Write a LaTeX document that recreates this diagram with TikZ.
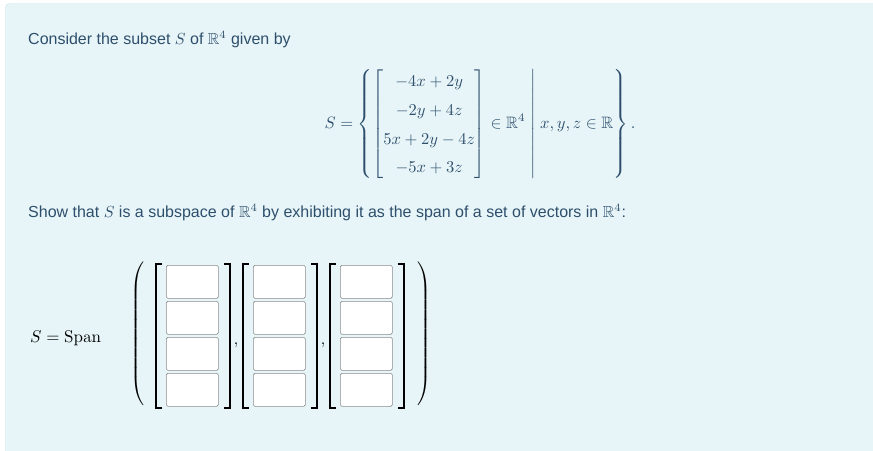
\documentclass[tikz,border=0pt]{standalone}
\usepackage{amsmath,amssymb}
\usepackage[no-math]{fontspec}
\setmainfont{Liberation Sans}
\definecolor{txt}{HTML}{2D4F6C}
\definecolor{bg}{HTML}{E8F5F8}
\definecolor{edge}{HTML}{C5E3EC}
\begin{document}
\begin{tikzpicture}[x=1pt,y=-1pt,
  para/.style={anchor=base west,inner sep=0,text=txt},
  ansbox/.style={draw=gray!90,fill=white,rounded corners=1.5pt,minimum width=52pt,minimum height=33pt,inner sep=0,anchor=north west,line width=0.6pt},
  brk/.style={line width=1.3pt}]
\useasboundingbox (0,0) rectangle (873,450);
\draw[edge,fill=bg,rounded corners=4pt] (5.5,3.5) rectangle (880,460);
\node[para] (p1) at (28,44) {\scalebox{1.6}{Consider the subset $S$ of $\mathbb{R}^4$ given by}};
\node[text=txt,inner sep=0] (eq) at (480,124) {\scalebox{1.65}{$\displaystyle S=\left\{\renewcommand{\arraystretch}{1.45}\begin{bmatrix}\;-4x+2y\;\\ -2y+4z\\ 5x+2y-4z\\ -5x+3z\end{bmatrix}\in\mathbb{R}^4\;\middle|\;x,y,z\in\mathbb{R}\right\}.$}};
\node[para] (p2) at (28,217) {\scalebox{1.6}{Show that $S$ is a subspace of $\mathbb{R}^4$ by exhibiting it as the span of a set of vectors in $\mathbb{R}^4$:}};
\node[anchor=base west,inner sep=0] (sp) at (30,342) {\scalebox{1.7}{$S=\mathrm{Span}$}};
\node[inner sep=0] (lp) at (138,336) {\scalebox{1.6}{$\left(\vrule height 45pt depth 45pt width 0pt\right.$}};
\node[inner sep=0] (rp) at (424,336) {\scalebox{1.6}{$\left.\vrule height 45pt depth 45pt width 0pt\right)$}};
\foreach \g/\x in {a/156,b/243,c/330}{
  \draw[brk] (\x+6,264) -- (\x,264) -- (\x,408) -- (\x+6,408);
  \draw[brk] (\x+68,264) -- (\x+74,264) -- (\x+74,408) -- (\x+68,408);
  \foreach \r/\y in {1/265,2/301,3/337,4/373}
    \node[ansbox] (\g\r) at (\x+10,\y) {};
}
\node[anchor=base,inner sep=0] (c1) at (236,344) {\scalebox{1.6}{$,$}};
\node[anchor=base,inner sep=0] (c2) at (323,344) {\scalebox{1.6}{$,$}};
\end{tikzpicture}
\end{document}
